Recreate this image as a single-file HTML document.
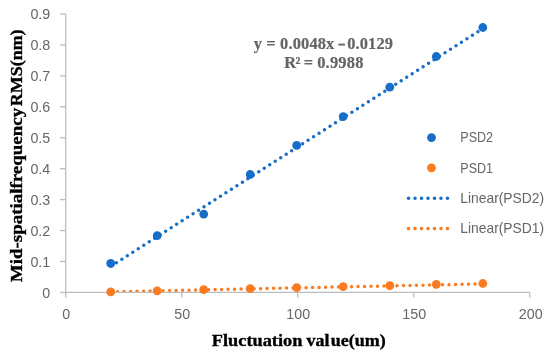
<!DOCTYPE html>
<html><head><meta charset="utf-8"><title>chart</title>
<style>
html,body{margin:0;padding:0;background:#fff;}
body{width:550px;height:356px;overflow:hidden;}
svg{display:block;}
.s{font-family:"Liberation Sans",sans-serif;font-size:14.3px;fill:#666666;}
.t{font-family:"Liberation Serif",serif;font-weight:bold;font-size:17.3px;}
.b{font-size:18.5px;fill:#000;stroke:#000;stroke-width:0.35px;}
</style></head><body>
<svg width="550" height="356" viewBox="0 0 550 356">
<defs><clipPath id="plot"><rect x="60" y="0" width="480" height="292.7"/></clipPath></defs>
<rect width="550" height="356" fill="#fff"/>
<g clip-path="url(#plot)" fill="none" stroke-width="3.5" stroke-linecap="round" stroke-dasharray="0 6.5">
<path d="M110.9 266.3L483.3 28.4" stroke="#176EC9"/>
<path d="M111.1 291.84L483.0 283.9" stroke="#F97B22"/>
</g>
<g stroke="#BDBDBD" stroke-width="1.3" fill="none">
<path d="M65.7 14.0V292.4H529.7"/>
<path d="M60.1 292.40H65.7"/>
<path d="M60.1 261.47H65.7"/>
<path d="M60.1 230.53H65.7"/>
<path d="M60.1 199.60H65.7"/>
<path d="M60.1 168.67H65.7"/>
<path d="M60.1 137.73H65.7"/>
<path d="M60.1 106.80H65.7"/>
<path d="M60.1 75.87H65.7"/>
<path d="M60.1 44.93H65.7"/>
<path d="M60.1 14.00H65.7"/>
<path d="M65.7 292.4V297.6"/>
<path d="M181.7 292.4V297.6"/>
<path d="M297.7 292.4V297.6"/>
<path d="M413.7 292.4V297.6"/>
<path d="M529.7 292.4V297.6"/>
</g>
<text class="s" x="50.3" y="297.5" text-anchor="end">0</text>
<text class="s" x="50.3" y="266.6" text-anchor="end">0.1</text>
<text class="s" x="50.3" y="235.6" text-anchor="end">0.2</text>
<text class="s" x="50.3" y="204.7" text-anchor="end">0.3</text>
<text class="s" x="50.3" y="173.8" text-anchor="end">0.4</text>
<text class="s" x="50.3" y="142.8" text-anchor="end">0.5</text>
<text class="s" x="50.3" y="111.9" text-anchor="end">0.6</text>
<text class="s" x="50.3" y="81.0" text-anchor="end">0.7</text>
<text class="s" x="50.3" y="50.0" text-anchor="end">0.8</text>
<text class="s" x="50.3" y="19.1" text-anchor="end">0.9</text>
<text class="s" x="66.3" y="318.8" text-anchor="middle">0</text>
<text class="s" x="182.3" y="318.8" text-anchor="middle">50</text>
<text class="s" x="298.3" y="318.8" text-anchor="middle">100</text>
<text class="s" x="414.3" y="318.8" text-anchor="middle">150</text>
<text class="s" x="530.7" y="318.8" text-anchor="middle">200</text>
<circle cx="110.7" cy="263.4" r="4.4" fill="#176EC9"/>
<circle cx="157.2" cy="235.7" r="4.4" fill="#176EC9"/>
<circle cx="203.7" cy="214.1" r="4.4" fill="#176EC9"/>
<circle cx="250.2" cy="174.5" r="4.4" fill="#176EC9"/>
<circle cx="296.7" cy="145.4" r="4.4" fill="#176EC9"/>
<circle cx="343.2" cy="116.6" r="4.4" fill="#176EC9"/>
<circle cx="389.8" cy="87.2" r="4.4" fill="#176EC9"/>
<circle cx="436.3" cy="56.5" r="4.4" fill="#176EC9"/>
<circle cx="482.8" cy="27.5" r="4.4" fill="#176EC9"/>
<circle cx="110.7" cy="291.9" r="4.4" fill="#F97B22"/>
<circle cx="157.2" cy="290.8" r="4.4" fill="#F97B22"/>
<circle cx="203.7" cy="289.7" r="4.4" fill="#F97B22"/>
<circle cx="250.2" cy="288.6" r="4.4" fill="#F97B22"/>
<circle cx="296.7" cy="287.6" r="4.4" fill="#F97B22"/>
<circle cx="343.2" cy="286.6" r="4.4" fill="#F97B22"/>
<circle cx="389.8" cy="285.6" r="4.4" fill="#F97B22"/>
<circle cx="436.3" cy="284.3" r="4.4" fill="#F97B22"/>
<circle cx="482.8" cy="283.5" r="4.4" fill="#F97B22"/>
<text class="t b" style="font-size:17.1px" transform="translate(21.7 282.2) rotate(-90)"><tspan x="0" textLength="174.3" lengthAdjust="spacingAndGlyphs">Mid-spatialfrequency</tspan> <tspan x="176" textLength="76.8" lengthAdjust="spacingAndGlyphs">RMS(nm)</tspan></text>
<text class="t b" style="font-size:17px" y="345.7"><tspan x="211.8" textLength="90.6" lengthAdjust="spacingAndGlyphs">Fluctuation</tspan> <tspan x="306.5" dx="0 0 0 1.2" textLength="79.2" lengthAdjust="spacingAndGlyphs">value(um)</tspan></text>
<g class="t" fill="#646464" stroke="#646464" stroke-width="0.2" style="font-size:16.4px">
<text y="48.5"><tspan x="253.7" textLength="80.6" lengthAdjust="spacing">y = 0.0048x</tspan> <tspan x="337.7" y="49.3" textLength="8.0" lengthAdjust="spacingAndGlyphs">-</tspan> <tspan x="347.2" y="48.5" textLength="45.7" lengthAdjust="spacing">0.0129</tspan></text>
<text y="67.6"><tspan x="284.2" textLength="28.8" lengthAdjust="spacing">R² =</tspan> <tspan x="317.2" textLength="46.2" lengthAdjust="spacing">0.9988</tspan></text>
</g>
<circle cx="431.5" cy="137.6" r="4.4" fill="#176EC9"/>
<circle cx="431.5" cy="167.9" r="4.4" fill="#F97B22"/>
<path d="M408.5 198.2H449" stroke="#176EC9" stroke-width="3.6" stroke-linecap="round" stroke-dasharray="0 6.5" fill="none"/>
<path d="M408.5 228.6H449" stroke="#F97B22" stroke-width="3.6" stroke-linecap="round" stroke-dasharray="0 6.5" fill="none"/>
<text class="s" x="460.3" y="142.1" textLength="32.8" lengthAdjust="spacingAndGlyphs">PSD2</text>
<text class="s" x="460.3" y="172.5" textLength="32.8" lengthAdjust="spacingAndGlyphs">PSD1</text>
<text class="s" x="460.3" y="203" textLength="83.8" lengthAdjust="spacingAndGlyphs">Linear(PSD2)</text>
<text class="s" x="460.3" y="233.3" textLength="83.8" lengthAdjust="spacingAndGlyphs">Linear(PSD1)</text>
</svg></body></html>
